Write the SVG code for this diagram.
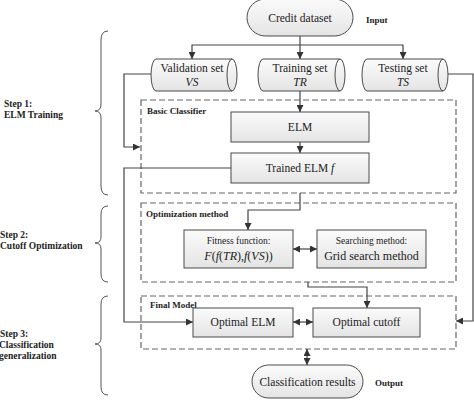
<svg xmlns="http://www.w3.org/2000/svg" width="474" height="401" viewBox="0 0 474 401">
<defs>
<linearGradient id="g" x1="0" y1="0" x2="0" y2="1">
<stop offset="0" stop-color="#fbfbfb"/>
<stop offset="1" stop-color="#e4e4e4"/>
</linearGradient>
<marker id="ah" viewBox="0 0 10 10" refX="10" refY="5" markerWidth="7" markerHeight="7" markerUnits="userSpaceOnUse" orient="auto-start-reverse">
<path d="M0,0 L10,5 L0,10 Z" fill="#333"/>
</marker>
</defs>
<style>
.box{fill:url(#g);stroke:#4a4a4a;stroke-width:1}
.dash{fill:none;stroke:#666;stroke-width:1.2;stroke-dasharray:6,3}
.t{font-family:'Liberation Serif','DejaVu Serif',serif;fill:#222;text-anchor:middle}
.b{font-family:'Liberation Serif','DejaVu Serif',serif;font-weight:bold;fill:#222}
.c{fill:none;stroke:#444;stroke-width:1.2}
.br{fill:none;stroke:#555;stroke-width:1}
</style>

<g id="braces">
<path class="br" d="M108,31 Q101,31 101,40 L101,104 Q101,111 95,111 Q101,111 101,118 L101,186 Q101,195 108,195"/>
<path class="br" d="M108,206 Q101,206 101,214 L101,237 Q101,243 95,243 Q101,243 101,249 L101,274 Q101,282 108,282"/>
<path class="br" d="M108,296 Q101,296 101,304 L101,338 Q101,344 95,344 Q101,344 101,350 L101,387 Q101,395 108,395"/>
</g>

<g id="step-labels">
<text class="b" font-size="9.5" x="4" y="107">Step 1:</text>
<text class="b" font-size="9.5" x="4" y="118">ELM Training</text>
<text class="b" font-size="9.5" x="0" y="238">Step 2:</text>
<text class="b" font-size="9.5" x="0" y="249">Cutoff Optimization</text>
<text class="b" font-size="9.5" x="0" y="337">Step 3:</text>
<text class="b" font-size="9.5" x="-1" y="348">Classification</text>
<text class="b" font-size="9.5" x="-1" y="359">generalization</text>
</g>

<g id="group-basic">
<rect class="dash" x="141" y="100" width="315" height="93"/>
<text class="b" font-size="9" x="147" y="114">Basic Classifier</text>
</g>
<g id="group-opt">
<rect class="dash" x="141" y="203" width="315" height="79"/>
<text class="b" font-size="9" x="146" y="217">Optimization method</text>
</g>
<g id="group-final">
<rect class="dash" x="141" y="296" width="315" height="53"/>
<text class="b" font-size="9" x="150" y="308">Final Model</text>
</g>

<g id="connectors">
<polyline class="c" points="300,36 300,59" marker-end="url(#ah)"/>
<polyline class="c" points="192,59 192,45 403,45 403,59" marker-start="url(#ah)" marker-end="url(#ah)"/>
<polyline class="c" points="151,74 124,74 124,147 140,147" marker-end="url(#ah)"/>
<polyline class="c" points="300,91 300,112" marker-end="url(#ah)"/>
<polyline class="c" points="300,142 300,153" marker-end="url(#ah)"/>
<polyline class="c" points="231,168 124,168 124,322 193,322" marker-end="url(#ah)"/>
<polyline class="c" points="448,74 473,74 473,321 456,321" marker-end="url(#ah)"/>
<polyline class="c" points="300,193 300,210 248,210 248,230" marker-end="url(#ah)"/>
<polyline class="c" points="293,249 317,249" marker-start="url(#ah)" marker-end="url(#ah)"/>
<polyline class="c" points="308,282 308,287 367,287 367,308" marker-end="url(#ah)"/>
<polyline class="c" points="293,322 313,322" marker-start="url(#ah)" marker-end="url(#ah)"/>
<polyline class="c" points="307,349 307,365" marker-start="url(#ah)" marker-end="url(#ah)"/>
</g>

<g id="credit-dataset">
<rect class="box" x="247" y="-1" width="106" height="37" rx="18.5"/>
<text class="t" font-size="11.5" x="300" y="22">Credit dataset</text>
<text class="b" font-size="9" x="366" y="23">Input</text>
</g>

<g id="validation-set">
<path class="box" d="M156,59 L232,59 A5,16 0 0 1 232,91 L156,91 A5,16 0 0 1 156,59 Z"/>
<path class="br" d="M232,59 A5,16 0 0 0 232,91" style="stroke:#4a4a4a"/>
<text class="t" font-size="11.5" x="192" y="72">Validation set</text>
<text class="t" font-size="11.5" x="192" y="86" font-style="italic">VS</text>
</g>

<g id="training-set">
<path class="box" d="M263,59 L340,59 A5,16 0 0 1 340,91 L263,91 A5,16 0 0 1 263,59 Z"/>
<path class="br" d="M340,59 A5,16 0 0 0 340,91" style="stroke:#4a4a4a"/>
<text class="t" font-size="11.5" x="300" y="72">Training set</text>
<text class="t" font-size="11.5" x="300" y="86" font-style="italic">TR</text>
</g>

<g id="testing-set">
<path class="box" d="M367,59 L443,59 A5,16 0 0 1 443,91 L367,91 A5,16 0 0 1 367,59 Z"/>
<path class="br" d="M443,59 A5,16 0 0 0 443,91" style="stroke:#4a4a4a"/>
<text class="t" font-size="11.5" x="403" y="72">Testing set</text>
<text class="t" font-size="11.5" x="403" y="86" font-style="italic">TS</text>
</g>

<g id="elm">
<rect class="box" x="231" y="112" width="138" height="30"/>
<text class="t" font-size="11.5" x="300" y="131">ELM</text>
</g>

<g id="trained-elm">
<rect class="box" x="231" y="153" width="138" height="30"/>
<text class="t" font-size="11.5" x="300" y="172">Trained ELM <tspan font-style="italic">f</tspan></text>
</g>

<g id="fitness">
<rect class="box" x="184" y="230" width="109" height="38"/>
<text class="t" font-size="9.5" x="238.5" y="244">Fitness function:</text>
<text class="t" font-size="12" x="238.5" y="260"><tspan font-style="italic">F</tspan>(<tspan font-style="italic">f</tspan>(<tspan font-style="italic">TR</tspan>),<tspan font-style="italic">f</tspan>(<tspan font-style="italic">VS</tspan>))</text>
</g>

<g id="searching">
<rect class="box" x="317" y="230" width="109" height="38"/>
<text class="t" font-size="9.5" x="371.5" y="244">Searching method:</text>
<text class="t" font-size="12" x="371.5" y="260">Grid search method</text>
</g>

<g id="optimal-elm">
<rect class="box" x="193" y="308" width="100" height="29"/>
<text class="t" font-size="11.5" x="243" y="326">Optimal ELM</text>
</g>

<g id="optimal-cutoff">
<rect class="box" x="313" y="308" width="107" height="29"/>
<text class="t" font-size="11.5" x="366.5" y="326">Optimal cutoff</text>
</g>

<g id="classification-results">
<rect class="box" x="252" y="365" width="111" height="33" rx="16.5"/>
<text class="t" font-size="11.5" x="307.5" y="386">Classification results</text>
<text class="b" font-size="9" x="375" y="386">Output</text>
</g>
</svg>
